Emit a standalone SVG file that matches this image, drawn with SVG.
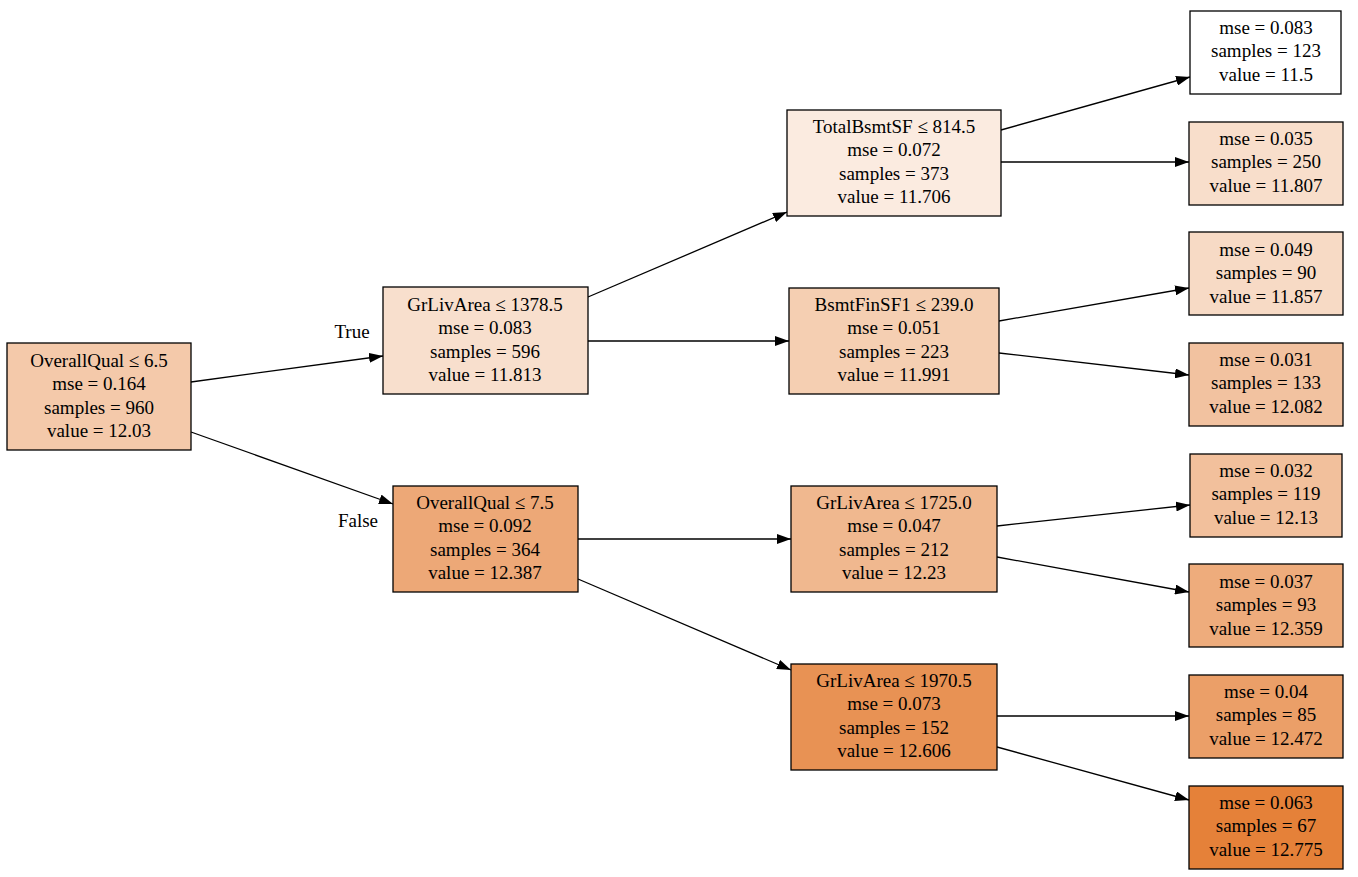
<svg xmlns="http://www.w3.org/2000/svg" width="1358" height="877" viewBox="0 0 1358 877">
<style>
text{font-family:"Liberation Serif","Times New Roman",serif;font-size:19px;text-anchor:middle;fill:#000}
.n rect{stroke:#000;stroke-width:1.3}
#edges line{stroke:#000;stroke-width:1.3;marker-end:url(#ah)}
</style>
<defs><marker id="ah" markerWidth="14" markerHeight="10" refX="14" refY="5" orient="auto" markerUnits="userSpaceOnUse"><path d="M0,0L14,5L0,10z" fill="#000"/></marker></defs>
<rect width="1358" height="877" fill="#fff"/>
<g id="edges">
<line x1="191" y1="382" x2="383" y2="356"/>
<line x1="191" y1="432" x2="393" y2="504"/>
<line x1="588" y1="297" x2="787" y2="212"/>
<line x1="588" y1="341" x2="789" y2="341"/>
<line x1="1001" y1="130" x2="1190" y2="77"/>
<line x1="1001" y1="162" x2="1189" y2="162"/>
<line x1="999" y1="321" x2="1189" y2="288"/>
<line x1="999" y1="353" x2="1189" y2="375"/>
<line x1="578" y1="539" x2="791" y2="539"/>
<line x1="578" y1="579" x2="791" y2="670"/>
<line x1="997" y1="526" x2="1190" y2="505"/>
<line x1="997" y1="557" x2="1189" y2="592"/>
<line x1="997" y1="716" x2="1189" y2="716"/>
<line x1="997" y1="747" x2="1189" y2="800"/>
<text x="352" y="338">True</text>
<text x="358" y="527">False</text>
</g>
<g id="root" class="n"><rect x="7" y="343" width="184" height="107" fill="#f4c9aa"/><text x="99" y="367">OverallQual ≤ 6.5</text><text x="99" y="390">mse = 0.164</text><text x="99" y="414">samples = 960</text><text x="99" y="437">value = 12.03</text></g>
<g id="n1" class="n"><rect x="383" y="287" width="205" height="107" fill="#f8dfcd"/><text x="485" y="311">GrLivArea ≤ 1378.5</text><text x="485" y="334">mse = 0.083</text><text x="485" y="358">samples = 596</text><text x="485" y="381">value = 11.813</text></g>
<g id="n2" class="n"><rect x="393" y="486" width="185" height="106" fill="#eda877"/><text x="485" y="509">OverallQual ≤ 7.5</text><text x="485" y="532">mse = 0.092</text><text x="485" y="556">samples = 364</text><text x="485" y="579">value = 12.387</text></g>
<g id="n3" class="n"><rect x="787" y="110" width="214" height="106" fill="#fbebe0"/><text x="894" y="133">TotalBsmtSF ≤ 814.5</text><text x="894" y="156">mse = 0.072</text><text x="894" y="180">samples = 373</text><text x="894" y="203">value = 11.706</text></g>
<g id="n4" class="n"><rect x="789" y="288" width="210" height="106" fill="#f5cfb2"/><text x="894" y="311">BsmtFinSF1 ≤ 239.0</text><text x="894" y="334">mse = 0.051</text><text x="894" y="358">samples = 223</text><text x="894" y="381">value = 11.991</text></g>
<g id="n5" class="n"><rect x="791" y="486" width="206" height="106" fill="#f0b88f"/><text x="894" y="509">GrLivArea ≤ 1725.0</text><text x="894" y="532">mse = 0.047</text><text x="894" y="556">samples = 212</text><text x="894" y="579">value = 12.23</text></g>
<g id="n6" class="n"><rect x="791" y="664" width="206" height="106" fill="#e89254"/><text x="894" y="687">GrLivArea ≤ 1970.5</text><text x="894" y="710">mse = 0.073</text><text x="894" y="734">samples = 152</text><text x="894" y="757">value = 12.606</text></g>
<g id="l1" class="n"><rect x="1190" y="11" width="151" height="83" fill="#ffffff"/><text x="1266" y="34">mse = 0.083</text><text x="1266" y="57">samples = 123</text><text x="1266" y="81">value = 11.5</text></g>
<g id="l2" class="n"><rect x="1189" y="122" width="154" height="83" fill="#f8decb"/><text x="1266" y="145">mse = 0.035</text><text x="1266" y="168">samples = 250</text><text x="1266" y="192">value = 11.807</text></g>
<g id="l3" class="n"><rect x="1189" y="232" width="154" height="83" fill="#f7dac5"/><text x="1266" y="256">mse = 0.049</text><text x="1266" y="279">samples = 90</text><text x="1266" y="303">value = 11.857</text></g>
<g id="l4" class="n"><rect x="1189" y="343" width="154" height="83" fill="#f2c2a0"/><text x="1266" y="366">mse = 0.031</text><text x="1266" y="389">samples = 133</text><text x="1266" y="413">value = 12.082</text></g>
<g id="l5" class="n"><rect x="1190" y="454" width="152" height="83" fill="#f2c09c"/><text x="1266" y="477">mse = 0.032</text><text x="1266" y="500">samples = 119</text><text x="1266" y="524">value = 12.13</text></g>
<g id="l6" class="n"><rect x="1189" y="564" width="154" height="83" fill="#eeac7c"/><text x="1266" y="588">mse = 0.037</text><text x="1266" y="611">samples = 93</text><text x="1266" y="635">value = 12.359</text></g>
<g id="l7" class="n"><rect x="1189" y="675" width="154" height="83" fill="#eb9f68"/><text x="1266" y="698">mse = 0.04</text><text x="1266" y="721">samples = 85</text><text x="1266" y="745">value = 12.472</text></g>
<g id="l8" class="n"><rect x="1189" y="786" width="154" height="83" fill="#e58139"/><text x="1266" y="809">mse = 0.063</text><text x="1266" y="832">samples = 67</text><text x="1266" y="856">value = 12.775</text></g>
</svg>
